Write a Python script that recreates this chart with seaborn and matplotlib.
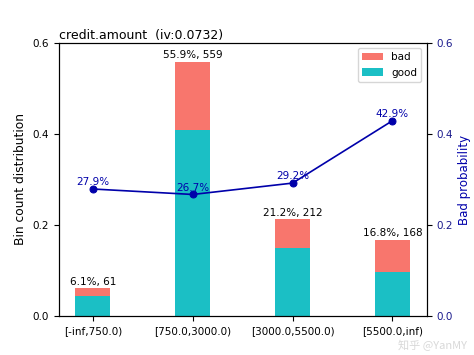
import matplotlib
matplotlib.use("Agg")
import matplotlib.pyplot as plt
import seaborn as sns
import pandas as pd
import numpy as np
from matplotlib.patches import Patch

bins = ["[-inf,750.0)", "[750.0,3000.0)", "[3000.0,5500.0)", "[5500.0,inf)"]
count = [61, 559, 212, 168]
count_distr = [0.061, 0.559, 0.212, 0.168]
badprob = [0.279, 0.267, 0.292, 0.429]
title = "credit.amount  (iv:0.0732)"

bad_color = "#F8766D"
good_color = "#1BBFC5"
line_color = "#0000AA"
fs = 7.5

good_distr = [d * (1 - p) for d, p in zip(count_distr, badprob)]
df = pd.DataFrame({"bin": bins, "total": count_distr, "good": good_distr,
                   "badprob": badprob, "pos": np.arange(len(bins))})

fig = plt.figure(figsize=(4.74, 3.55), dpi=100)
ax = fig.add_axes([0.124, 0.11, 0.776, 0.769])

sns.barplot(data=df, x="bin", y="total", color=bad_color, width=0.35,
            saturation=1, ax=ax, order=bins)
sns.barplot(data=df, x="bin", y="good", color=good_color, width=0.35,
            saturation=1, ax=ax, order=bins)

for i, (d, c) in enumerate(zip(count_distr, count)):
    ax.text(i, d + 0.003, f"{d*100:.1f}%, {c}", ha="center", va="bottom", fontsize=fs)

ax.set_ylim(0, 0.6)
ax.set_yticks([0, 0.2, 0.4, 0.6])
ax.set_xlim(-0.3425, 3.3425)
ax.set_xlabel("")
ax.set_ylabel("Bin count distribution", fontsize=8.8)
ax.tick_params(labelsize=fs)
ax.set_title(title, loc="left", fontsize=9, pad=3)

ax2 = ax.twinx()
sns.lineplot(data=df, x="pos", y="badprob", color=line_color, marker="o",
             markersize=5, markeredgecolor=line_color, ax=ax2, linewidth=1.2)
for i, p in enumerate(badprob):
    ax2.text(i, p + 0.004, f"{p*100:.1f}%", ha="center", va="bottom",
             fontsize=fs, color=line_color)
ax2.set_ylim(0, 0.6)
ax2.set_yticks([0, 0.2, 0.4, 0.6])
ax2.set_xlim(-0.3425, 3.3425)
ax2.set_ylabel("Bad probability", color=line_color, fontsize=8.5)
ax2.tick_params(axis="y", labelcolor="#1a1a8c", labelsize=fs, color="black")
ax2.set_xlabel("")

handles = [Patch(facecolor=bad_color), Patch(facecolor=good_color)]
ax.legend(handles, ["bad", "good"], loc="upper right", fontsize=fs)

fig.text(0.985, 0.01, "知乎 @YanMY", ha="right", va="bottom", fontsize=8,
         color="#d8d8d8", family=["Noto Sans CJK SC", "DejaVu Sans"])

fig.savefig("out.png", dpi=100)
